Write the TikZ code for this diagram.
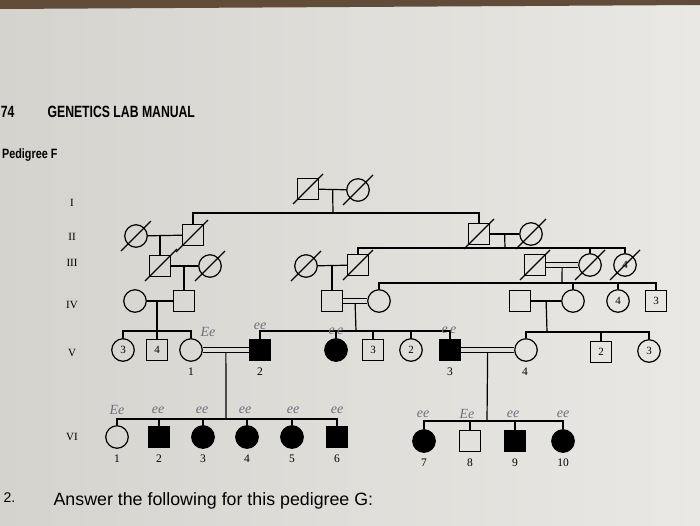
\documentclass[tikz,border=0pt]{standalone}
\usepackage{fontspec}
\setmainfont{Liberation Serif}
\setsansfont{Liberation Sans}
\usetikzlibrary{positioning, calc}
\definecolor{paperL}{RGB}{212,211,206}
\definecolor{paperR}{RGB}{233,232,228}
\definecolor{paper}{RGB}{222,221,217}
\definecolor{pencil}{RGB}{112,110,126}
\definecolor{tabletop}{RGB}{96,76,56}

\begin{document}
\begin{tikzpicture}[
    x=1pt, y=-1pt, line width=1.2pt,
    male/.style={rectangle, draw, minimum size=21pt, inner sep=0pt,
                 font=\fontsize{11}{11}\selectfont},
    female/.style={circle, draw, minimum size=22.5pt, inner sep=0pt,
                   font=\fontsize{11}{11}\selectfont},
    aff/.style={fill=black},
    slash/.style={line width=1.2pt},
    dbl/.style={double=paper, double distance=3.2pt, line width=1.1pt},
    num/.style={inner sep=0pt, font=\fontsize{11.5}{12}\selectfont},
    gen/.style={inner sep=0pt, font=\fontsize{11}{12}\selectfont},
    geno/.style={inner sep=0pt, text=pencil,
                 font=\fontsize{14}{14}\selectfont\itshape},
    hdr/.style={inner sep=0pt, font=\sffamily\bfseries},
]

%% ─── page ────────────────────────────────────────────────────
\useasboundingbox (0,0) rectangle (700,525);
\shade[left color=paperL, right color=paperR] (0,0) rectangle (700,525);
\fill[tabletop] (0,0) -- (700,0) -- (700,5) -- (0,9) -- cycle;

\node[hdr, anchor=base east] (pgno) at (15,117)
    {\fontsize{16.3}{17}\selectfont\scalebox{0.75}[1]{74}};
\node[hdr, anchor=base west] (title) at (47,117)
    {\fontsize{16.3}{17}\selectfont\scalebox{0.75}[1]{GENETICS LAB MANUAL}};
\node[hdr, anchor=base east] (pedF) at (58,158)
    {\fontsize{13.5}{14}\selectfont\scalebox{0.8}[1]{Pedigree F}};

%% ─── generation labels ───────────────────────────────────────
\node[gen] (gI)   at (72,203) {I};
\node[gen] (gII)  at (72,237) {II};
\node[gen] (gIII) at (72,263) {III};
\node[gen] (gIV)  at (72,305) {IV};
\node[gen] (gV)   at (72,353) {V};
\node[gen] (gVI)  at (72,437) {VI};

%% ─── nodes ───────────────────────────────────────────────────
% I
\node[male]   (i1) at (308,189) {};
\node[female] (i2) at (358,190) {};

% II
\node[female] (ii1) at (136,236) {};
\node[male]   (ii2) at (193,235) {};
\node[male]   (ii3) at (479,234) {};
\node[female] (ii4) at (531,234) {};

% III
\node[male]   (iii1) at (160,266) {};
\node[female] (iii2) at (210,266) {};
\node[female] (iii3) at (306,266) {};
\node[male]   (iii4) at (358,265) {};
\node[male]   (iii5) at (535,265) {};
\node[female] (iii6) at (590,265) {};
\node[female] (iii7) at (625,265) {4};

% IV
\node[female] (iv1) at (135,301) {};
\node[male]   (iv2) at (184,301) {};
\node[male]   (iv3) at (332,301) {};
\node[female] (iv4) at (379,301) {};
\node[male]   (iv5) at (520,301) {};
\node[female] (iv6) at (573,301) {};
\node[female] (iv7) at (618,301) {4};
\node[male]   (iv8) at (656,301) {3};

% V
\node[female]      (va1) at (123,350) {3};
\node[male]        (va2) at (157,350) {4};
\node[female]      (v1)  at (191,350) {};
\node[male, aff]   (v2)  at (260,350) {};
\node[female, aff] (vb1) at (336,350) {};
\node[male]        (vb2) at (373,350) {3};
\node[female]      (vb3) at (411,350) {2};
\node[male, aff]   (v3)  at (450,350) {};
\node[female]      (v4)  at (526,350) {};
\node[male]        (vc1) at (601,352) {2};
\node[female]      (vc2) at (649,351) {3};

% VI
\node[female]      (vi1)  at (117,437) {};
\node[male, aff]   (vi2)  at (159,437) {};
\node[female, aff] (vi3)  at (203,437) {};
\node[female, aff] (vi4)  at (247,437) {};
\node[female, aff] (vi5)  at (292,437) {};
\node[male, aff]   (vi6)  at (337,437) {};
\node[female, aff] (vi7)  at (424,441) {};
\node[male]        (vi8)  at (470,441) {};
\node[male, aff]   (vi9)  at (515,441) {};
\node[female, aff] (vi10) at (563,441) {};

%% ─── deceased ────────────────────────────────────────────────
\draw[slash] ([shift={(-15,15)}]i1.center) -- ([shift={(15,-15)}]i1.center);
\draw[slash] ([shift={(-15,15)}]i2.center) -- ([shift={(15,-15)}]i2.center);
\draw[slash] ([shift={(-15,15)}]ii1.center) -- ([shift={(15,-15)}]ii1.center);
\draw[slash] ([shift={(-17,17)}]ii2.center) -- ([shift={(15,-15)}]ii2.center);
\draw[slash] ([shift={(-15,15)}]ii3.center) -- ([shift={(15,-15)}]ii3.center);
\draw[slash] ([shift={(-15,15)}]ii4.center) -- ([shift={(15,-15)}]ii4.center);
\draw[slash] ([shift={(-15,15)}]iii1.center) -- ([shift={(17,-17)}]iii1.center);
\draw[slash] ([shift={(-15,15)}]iii2.center) -- ([shift={(15,-15)}]iii2.center);
\draw[slash] ([shift={(-15,15)}]iii3.center) -- ([shift={(15,-15)}]iii3.center);
\draw[slash] ([shift={(-15,15)}]iii4.center) -- ([shift={(15,-15)}]iii4.center);
\draw[slash] ([shift={(-15,15)}]iii5.center) -- ([shift={(15,-15)}]iii5.center);
\draw[slash] ([shift={(-15,15)}]iii6.center) -- ([shift={(15,-15)}]iii6.center);
\draw[slash] ([shift={(-15,15)}]iii7.center) -- ([shift={(15,-15)}]iii7.center);

%% ─── matings and sibships ────────────────────────────────────
% I
\draw (i1) -- (i2);
\coordinate (mI) at ($(i1.east)!0.5!(i2.west)$);
\coordinate (sII) at (333,213);
\draw (mI) -- (sII);
\draw (ii2.north) |- (sII) -| (ii3.north);

% II
\draw (ii1) -- (ii2);
\draw (iii1.north) -- (iii1.north |- ii1.east);
\draw (ii3) -- (ii4);
\coordinate (mII) at ($(ii3.east)!0.5!(ii4.west)$);
\coordinate (sIII) at (505,248);
\draw (mII) -- (sIII);
\draw (iii4.north) |- (sIII) -| (iii7.north);
\draw (iii6.north) -- (iii6.north |- sIII);

% III
\draw (iii1) -- (iii2);
\draw (iv2.north) -- (iv2.north |- iii2.west);
\draw (iii3) -- (iii4);
\draw (iv3.north) -- (iv3.north |- iii3.east);
\draw[dbl] (iii5) -- (iii6);
\coordinate (mIII) at ($(iii5.east)!0.5!(iii6.west)$);
\coordinate (sIV) at (562,283);
\draw ([yshift=-2.5pt]mIII) -- (sIV);
\draw (iv4.north) |- (sIV) -| (iv8.north);
\draw (iv6.north) -- (iv6.north |- sIV);
\draw (iv7.north) -- (iv7.north |- sIV);

% IV
\draw (iv1) -- (iv2);
\coordinate (sV1) at (157,331);
\draw (va2.north) -- (va2.north |- iv1.east);
\draw (va1.north) |- (sV1) -| (v1.north);
\draw[dbl] (iv3) -- (iv4);
\coordinate (mIV) at ($(iv3.east)!0.5!(iv4.west)$);
\coordinate (sV2) at (356,331);
\draw ([yshift=-2.5pt]mIV) -- (sV2);
\draw (v2.north) |- (sV2) -| (v3.north);
\draw (vb1.north) -- (vb1.north |- sV2);
\draw (vb2.north) -- (vb2.north |- sV2);
\draw (vb3.north) -- (vb3.north |- sV2);
\draw (iv5) -- (iv6);
\coordinate (mIV2) at ($(iv5.east)!0.5!(iv6.west)$);
\coordinate (sV3) at (547,332);
\draw (mIV2) -- (sV3);
\draw (v4.north) |- (sV3) -| (vc2.north);
\draw (vc1.north) -- (vc1.north |- sV3);

% V
\draw[dbl] (v1) -- (v2);
\coordinate (mV1) at ($(v1.east)!0.5!(v2.west)$);
\coordinate (sVI1) at (226,419);
\draw ([yshift=-2.5pt]mV1) -- (sVI1);
\draw (vi1.north) |- (sVI1) -| (vi6.north);
\draw (vi2.north) -- (vi2.north |- sVI1);
\draw (vi3.north) -- (vi3.north |- sVI1);
\draw (vi4.north) -- (vi4.north |- sVI1);
\draw (vi5.north) -- (vi5.north |- sVI1);
\draw[dbl] (v3) -- (v4);
\coordinate (mV2) at ($(v3.east)!0.5!(v4.west)$);
\coordinate (sVI2) at (487,421);
\draw ([yshift=-2.5pt]mV2) -- (sVI2);
\draw (vi7.north) |- (sVI2) -| (vi10.north);
\draw (vi8.north) -- (vi8.north |- sVI2);
\draw (vi9.north) -- (vi9.north |- sVI2);

%% ─── individual numbers ──────────────────────────────────────
\node[num] (nv1) at (191,372) {1};
\node[num] (nv2) at (260,372) {2};
\node[num] (nv3) at (450,372) {3};
\node[num] (nv4) at (525,372) {4};

\node[num] (nvi1)  at (117,459) {1};
\node[num] (nvi2)  at (159,459) {2};
\node[num] (nvi3)  at (203,459) {3};
\node[num] (nvi4)  at (247,459) {4};
\node[num] (nvi5)  at (292,459) {5};
\node[num] (nvi6)  at (337,459) {6};
\node[num] (nvi7)  at (424,463) {7};
\node[num] (nvi8)  at (470,463) {8};
\node[num] (nvi9)  at (515,463) {9};
\node[num] (nvi10) at (563,463) {10};

%% ─── pencilled genotypes ─────────────────────────────────────
\node[geno] (gv1)  at (208,332) {Ee};
\node[geno] (gv2)  at (260,326) {ee};
\node[geno] (gvb1) at (336,331) {e\,e};
\node[geno] (gv3)  at (449,330) {e\,e};

\node[geno] (gvi1)  at (117,410) {Ee};
\node[geno] (gvi2)  at (158,410) {ee};
\node[geno] (gvi3)  at (202,410) {ee};
\node[geno] (gvi4)  at (245,410) {ee};
\node[geno] (gvi5)  at (293,410) {ee};
\node[geno] (gvi6)  at (337,410) {ee};
\node[geno] (gvi7)  at (423,414) {ee};
\node[geno] (gvi8)  at (467,414) {Ee};
\node[geno] (gvi9)  at (513,414) {ee};
\node[geno] (gvi10) at (563,414) {ee};

%% ─── question ────────────────────────────────────────────────
\node[anchor=base west, inner sep=0pt, font=\sffamily\fontsize{14}{15}\selectfont]
    (qno) at (3,502) {2.};
\node[anchor=base west, inner sep=0pt, font=\sffamily\fontsize{17.8}{19}\selectfont]
    (qtext) at (53,505) {Answer the following for this pedigree G:};

\end{tikzpicture}
\end{document}
